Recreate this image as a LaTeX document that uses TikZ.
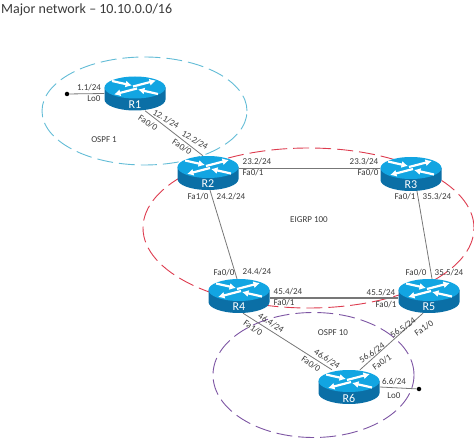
\documentclass[tikz,border=0pt]{standalone}
\usepackage{fontspec}
\setmainfont{Carlito}
\usepackage{tikz}
\usetikzlibrary{calc,shapes.geometric,arrows.meta,positioning}
\definecolor{routertop}{HTML}{12A5E2}
\definecolor{routerside}{HTML}{0B6FA6}
\definecolor{ospfblue}{HTML}{62BCD6}
\definecolor{eigrpred}{HTML}{DD3B4E}
\definecolor{ospfpurple}{HTML}{7D55A3}
\definecolor{linkgray}{HTML}{777777}
\definecolor{textgray}{HTML}{3A3A3A}

\begin{document}
\begin{tikzpicture}[
    x=1pt, y=-1pt,
    router/.style={rectangle, minimum width=61pt, minimum height=34pt, inner sep=0pt,
                path picture={
                    \begin{scope}[shift={(path picture bounding box.center)}]
                    \fill[routerside] (-30.5,-6) -- (-30.5,6) arc[start angle=180, end angle=360, x radius=30.5pt, y radius=11pt] -- (30.5,-6) -- cycle;
                    \fill[routertop] (0,-6) ellipse[x radius=30.5pt, y radius=11pt];
                    \draw[rarrow] (-2,-7) -- (21,-13);
                    \draw[rarrow] (2,-5) -- (-21,1);
                    \draw[rarrow] (-23,-12.5) -- (-3,-8);
                    \draw[rarrow] (23,0.5) -- (3,-4);
                    \end{scope}
                },
                label={[text=white, font=\fontsize{12}{13}\selectfont, yshift=-11pt]center:#1}},
    rarrow/.style={-{Latex[length=6.5pt, width=7pt]}, white, line width=2.2pt},
    area/.style={ellipse, line width=0.9pt, inner sep=0pt, dash pattern=on 16pt off 6pt},
    link/.style={draw=linkgray, line width=0.8pt},
    lbl/.style={text=textgray, inner sep=0pt, font=\fontsize{9}{10}\selectfont},
    dot/.style={circle, fill=black, inner sep=0pt, minimum size=4.5pt}
]
\useasboundingbox (0,0) rectangle (474,438);

% ================= AREAS =================
\node[area, draw=ospfblue, minimum width=205pt, minimum height=108pt] (Ospf1) at (144.5,111) {};
\node[area, draw=eigrpred, minimum width=331pt, minimum height=160pt] (Eigrp) at (308.5,228) {};
\node[area, draw=ospfpurple, minimum width=201pt, minimum height=125pt] (Ospf10) at (313.5,375) {};

% ================= ROUTERS =================
\node[router=R1] (R1) at (135,93.5) {};
\node[router=R2] (R2) at (208,173) {};
\node[router=R3] (R3) at (411,174) {};
\node[router=R4] (R4) at (239,296) {};
\node[router=R5] (R5) at (429,296) {};
\node[router=R6] (R6) at (349,387) {};

\node[dot] (Loop1) at (67,94) {};
\node[dot] (Loop6) at (419,389) {};

% ================= DRAWING LINKS =================
\draw[link] (Loop1) -- (R1.west);
\draw[link] ([xshift=10pt]R1.south) -- ([xshift=-5pt]R2.north);
\draw[link] ([yshift=5pt]R2.east) -- ([yshift=6pt]R3.west);
\draw[link] ([xshift=2pt]R2.south) -- ([xshift=-2pt]R4.north);
\draw[link] ([xshift=6pt]R3.south) -- ([xshift=3pt]R5.north);
\draw[link, line width=1.3pt] ([yshift=-2pt]R4.east) -- ([yshift=-2pt]R5.west);
\draw[link] ([xshift=4pt]R4.south) -- ([xshift=-17pt]R6.north);
\draw[link] ([xshift=-6pt]R5.south) -- ([xshift=11pt]R6.north);
\draw[link] (R6.east) -- (Loop6);

% ================= TEXTS =================
\node[anchor=west, inner sep=0pt, text=textgray, font=\fontsize{14}{15}\selectfont] (Title) at (1,10) {Major network -- 10.10.0.0/16};

\node[lbl] (NameOspf1) at (104,140) {OSPF 1};
\node[lbl] (NameEigrp) at (309,220) {EIGRP 100};
\node[lbl] (NameOspf10) at (333,333) {OSPF 10};

\node[lbl] (IpA) at (89,88) {1.1/24};
\node[lbl] (LoA) at (94,99) {Lo0};
\node[lbl, rotate=-30] (IpB) at (166,119) {12.1/24};
\node[lbl, rotate=-33] (FaB) at (148,123) {Fa0/0};
\node[lbl, rotate=-30] (IpC) at (195,140) {12.2/24};
\node[lbl, rotate=-33] (FaC) at (182,147) {Fa0/0};

\node[lbl] (IpD) at (257,162) {23.2/24};
\node[lbl] (FaD) at (253,173) {Fa0/1};
\node[lbl] (IpE) at (364,162) {23.3/24};
\node[lbl] (FaE) at (368,173) {Fa0/0};

\node[lbl] (FaF) at (198,197) {Fa1/0};
\node[lbl] (IpF) at (231,197) {24.2/24};
\node[lbl] (FaG) at (405,197) {Fa0/1};
\node[lbl] (IpG) at (437,197) {35.3/24};

\node[lbl] (FaH) at (224,273) {Fa0/0};
\node[lbl] (IpH) at (257,272) {24.4/24};
\node[lbl] (FaI) at (416,273) {Fa0/0};
\node[lbl] (IpI) at (449,273) {35.5/24};

\node[lbl] (IpJ) at (288,292) {45.4/24};
\node[lbl] (FaJ) at (284,303) {Fa0/1};
\node[lbl] (IpK) at (381,293) {45.5/24};
\node[lbl] (FaK) at (386,305) {Fa0/1};

\node[lbl, rotate=-33] (IpL) at (271,323) {46.4/24};
\node[lbl, rotate=-35] (FaL) at (253,328) {Fa1/0};
\node[lbl, rotate=-33] (IpM) at (327,359) {46.6/24};
\node[lbl, rotate=-35] (FaM) at (311,364) {Fa0/0};

\node[lbl, rotate=35] (IpN) at (403,328) {56.5/24};
\node[lbl, rotate=35] (FaN) at (424,328) {Fa1/0};
\node[lbl, rotate=35] (IpO) at (372,353) {56.6/24};
\node[lbl, rotate=35] (FaO) at (382,362) {Fa0/1};

\node[lbl] (IpP) at (394,382) {6.6/24};
\node[lbl] (LoP) at (394,396) {Lo0};

\end{tikzpicture}
\end{document}
